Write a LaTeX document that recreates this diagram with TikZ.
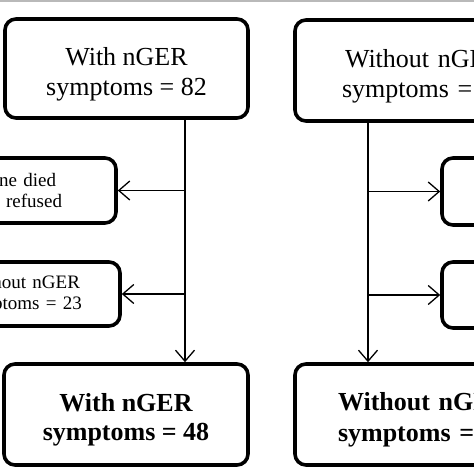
\documentclass[tikz,border=0pt]{standalone}
\usepackage{fontspec}
\setmainfont{Liberation Serif}
\usetikzlibrary{arrows.meta}
\tikzset{
  box/.style={draw=black, line width=3.6pt, rounded corners=11pt, fill=white, inner sep=0pt, align=center},
  bigtext/.style={font=\fontsize{26}{30}\selectfont},
  boldtext/.style={font=\fontsize{26}{28.5}\selectfont\bfseries},
  smalltext/.style={font=\fontsize{19}{21}\selectfont},
  conn/.style={draw=black, line width=1.3pt},
  arr/.style={conn, -{Straight Barb[length=11pt,width=19pt,line width=1.3pt]}}
}
\begin{document}
\begin{tikzpicture}[x=1pt,y=-1pt]
\useasboundingbox (0,0) rectangle (474,474);
\fill[white] (0,0) rectangle (474,474);
\fill[gray!55] (0,0) rectangle (474,2.4);
% top boxes
\node[box, bigtext, minimum width=243pt, minimum height=99pt] (tl) at (126.5,68.5)
  {\rule{0pt}{30pt}With nGER\\symptoms = 82};
\node[box, bigtext, minimum width=260pt, minimum height=101pt, text width=166pt, align=left] (tr) at (425,70.5)
  {\rule{0pt}{30pt}\kern3pt Without nGER\\symptoms =};
% middle left
\node[box, smalltext, minimum width=189pt, minimum height=65pt, text width=81pt, align=right] (m1) at (21.5,190.5)
  {ne died\rule{6pt}{0pt}\\refused};
\node[box, smalltext, minimum width=196pt, minimum height=64pt, text width=120pt, align=right] (m2) at (22,294)
  {hout nGER\rule{2pt}{0pt}\\ptoms = 23};
% middle right
\node[box, minimum width=190pt, minimum height=67pt] (r1) at (537,191.5) {};
\node[box, minimum width=190pt, minimum height=66pt] (r2) at (537,295) {};
% bottom boxes
\node[box, boldtext, minimum width=244pt, minimum height=101pt] (bl) at (126,414.5)
  {\rule{0pt}{29pt}With nGER\\symptoms = 48};
\node[box, boldtext, minimum width=260pt, minimum height=101pt, text width=174pt, align=left] (br) at (425,414.5)
  {\rule{0pt}{29pt}Without nGER\\\kern2pt symptoms =};
% trunks
\coordinate (xl) at (185,0);
\coordinate (xr) at (368,0);
\draw[arr] (tl.south -| xl) -- (bl.north -| xl);
\draw[arr] (xl |- m1.east) -- (m1.east);
\draw[arr] (xl |- m2.east) -- (m2.east);
\draw[arr] (tr.south -| xr) -- (br.north -| xr);
\draw[arr] (xr |- r1.west) -- (r1.west);
\draw[arr] (xr |- r2.west) -- (r2.west);
\end{tikzpicture}
\end{document}
